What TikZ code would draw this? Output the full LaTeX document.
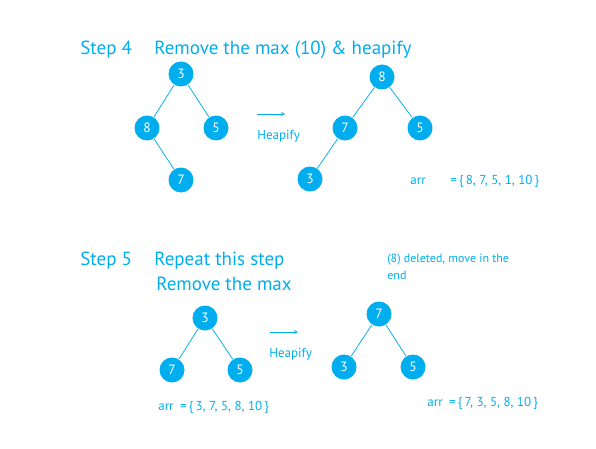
\documentclass[tikz,border=0pt]{standalone}
\usepackage{fontspec}
\setmainfont{PT Sans}
\definecolor{heapblue}{HTML}{00AEEF}

\begin{document}
\begin{tikzpicture}[x=1pt, y=-1pt, line width=0.75pt,
  every node/.style={text=heapblue},
  key/.style={circle, fill=heapblue, minimum size=25pt, inner sep=0pt, text=white, font=\fontsize{13.5}{15}\selectfont},
  title/.style={anchor=base west, inner sep=0pt, font=\fontsize{19}{22}\selectfont},
  note/.style={anchor=base west, inner sep=0pt, font=\fontsize{13}{15}\selectfont},
  link/.style={draw=heapblue}]
  \useasboundingbox (0,0) rectangle (596,449);
  % step 4
  \node[title] (s4) at (80,55) {Step 4};
  \node[title] (s4txt) at (154,55) {Remove the max (10) \& heapify};
  \node[key] (a3) at (181,74) {3};
  \node[key] (a8) at (147,128) {8};
  \node[key] (a5) at (216,128) {5};
  \node[key] (a7) at (181,180) {7};
  \draw[link] (a3) -- (a8);
  \draw[link] (a3) -- (a5);
  \draw[link] (a8) -- (a7);
  \coordinate (p1) at (257,114);
  \coordinate (q1) at (285,114);
  \draw[link, ->, >=stealth] (p1) -- (q1);
  \node[note] (h1) at (257,140) {Heapify};
  \node[key] (b8) at (382,77) {8};
  \node[key] (b7) at (345,128) {7};
  \node[key] (b5) at (420,128) {5};
  \node[key] (b3) at (310,179) {3};
  \draw[link] (b8) -- (b7);
  \draw[link] (b8) -- (b5);
  \draw[link] (b7) -- (b3);
  \node[note] (arr1) at (410,184) {arr};
  \node[note] (val1) at (450,184) {=\,\{\,8, 7, 5, 1, 10\,\}};
  % step 5
  \node[title] (s5) at (80,265) {Step 5};
  \node[title] (s5txt) at (154,265) {Repeat this step};
  \node[title] (s5sub) at (156,290) {Remove the max};
  \node[note, font=\fontsize{12}{14}\selectfont] (del) at (387,262) {(8) deleted, move in the};
  \node[note, font=\fontsize{12}{14}\selectfont] (del2) at (387,279) {end};
  \node[key] (c3) at (205,318) {3};
  \node[key] (c7) at (172,370) {7};
  \node[key] (c5) at (240,370) {5};
  \draw[link] (c3) -- (c7);
  \draw[link] (c3) -- (c5);
  \coordinate (p2) at (270,332);
  \coordinate (q2) at (298,332);
  \draw[link, ->, >=stealth] (p2) -- (q2);
  \node[note] (h2) at (269,357) {Heapify};
  \node[key] (d7) at (379,314) {7};
  \node[key] (d3) at (344,367) {3};
  \node[key] (d5) at (413,367) {5};
  \draw[link] (d7) -- (d3);
  \draw[link] (d7) -- (d5);
  \node[note] (arr2) at (158,410) {arr\enspace=\,\{\,3, 7, 5, 8, 10\,\}};
  \node[note] (arr3) at (427,406) {arr\enspace=\,\{\,7, 3, 5, 8, 10\,\}};
\end{tikzpicture}
\end{document}
